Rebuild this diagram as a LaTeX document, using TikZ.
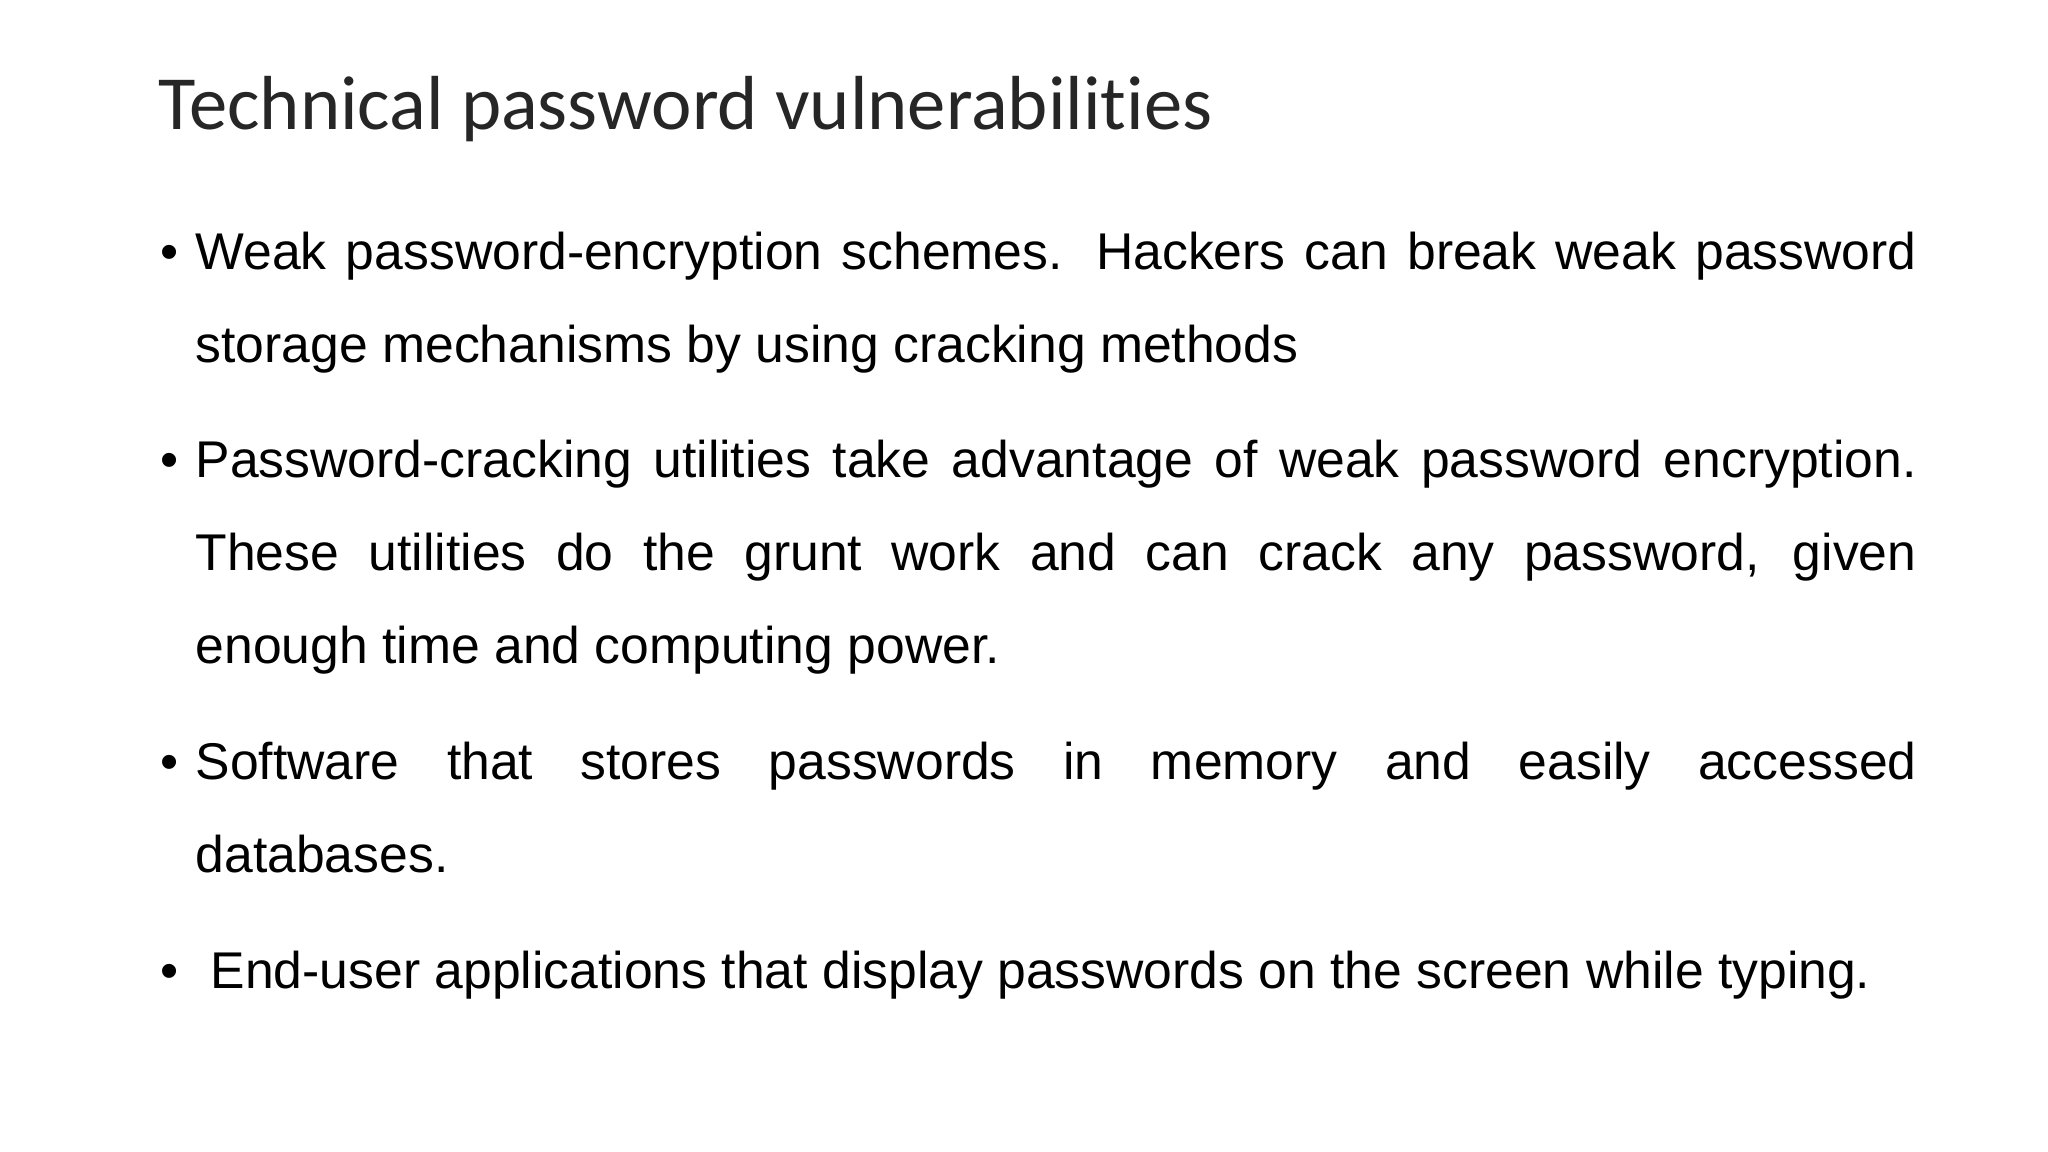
\documentclass[tikz,border=0pt]{standalone}
\usepackage{fontspec}
\setmainfont{Liberation Sans}
\newfontfamily\titlefont[Ligatures={NoCommon,NoRequired,NoContextual}]{Carlito}
\newcommand{\parasetup}{\hyphenpenalty=10000\exhyphenpenalty=10000\spaceskip=0.278em plus 10em minus 0em\relax}
\begin{document}
\begin{tikzpicture}[x=1cm,y=1cm,
  para/.style={anchor=north west,inner sep=0pt,text width=17.21cm,align=justify,
    font=\fontsize{14.7}{26.4}\selectfont},
  bul/.style={anchor=north west,inner sep=0pt,font=\fontsize{14.7}{26.4}\selectfont}]
\useasboundingbox[fill=white] (0,0) rectangle (20.48,-11.52);
\node[anchor=base west,inner sep=0pt,font=\titlefont\fontsize{21.8}{26}\selectfont,text=black!85] (title) at (1.58,-1.30) {Technical password vulnerabilities};
\node[bul] (d1) at (1.60,-2.04) {\strut•};
\node[para] (b1) at (1.95,-2.04) {\parasetup\strut Weak password-encryption schemes. Hackers can break weak password storage mechanisms by using cracking methods};
\node[bul] (d2) at (1.60,-4.12) {\strut•};
\node[para] (b2) at (1.95,-4.12) {\parasetup\strut Password-cracking utilities take advantage of weak password encryption. These utilities do the grunt work and can crack any password, given enough time and computing power.};
\node[bul] (d3) at (1.60,-7.14) {\strut•};
\node[para] (b3) at (1.95,-7.14) {\parasetup\strut Software that stores passwords in memory and easily accessed databases.};
\node[bul] (d4) at (1.60,-9.23) {\strut•};
\node[bul] (b4) at (2.10,-9.23) {\strut End-user applications that display passwords on the screen while typing.};
\end{tikzpicture}
\end{document}
